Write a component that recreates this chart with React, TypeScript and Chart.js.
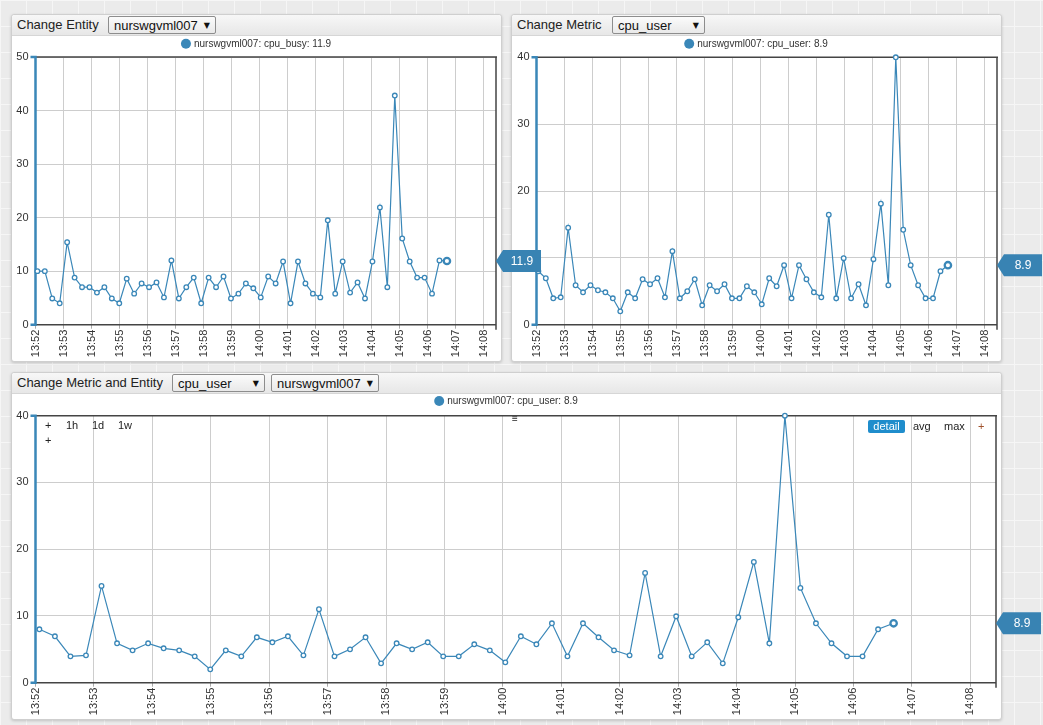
import React, { useEffect, useRef } from 'react';
import { Chart, registerables } from 'chart.js';

Chart.register(...registerables);

// ---------- data ----------
const ENTITY = 'nurswgvml007';
const METRIC_BUSY = 'cpu_busy';
const METRIC_USER = 'cpu_user';

// x axis: minutes after 13:52
const AXIS_START_H = 13;
const AXIS_START_M = 52;
const AXIS_SPAN_MIN = 16.44;
const FIRST_SAMPLE_SEC = 4;
const SAMPLE_STEP_SEC = 15.95;

const cpuBusy = [
  10.0, 10.0, 4.9, 4.0, 15.4, 8.8, 7.0, 7.0, 6.0, 7.0,
  4.9, 4.0, 8.6, 5.8, 7.7, 7.0, 7.9, 5.1, 12.0, 4.9,
  7.0, 8.8, 4.0, 8.8, 7.0, 9.0, 4.9, 5.8, 7.7, 6.8,
  5.1, 9.0, 7.7, 11.8, 4.0, 11.8, 7.7, 5.8, 5.1, 19.5,
  5.8, 11.8, 6.0, 7.9, 4.9, 11.8, 21.9, 7.0, 42.8, 16.1,
  11.8, 8.8, 8.8, 5.8, 12.0, 11.9,
];

const cpuUser = [
  8.0, 6.95, 3.95, 4.1, 14.5, 5.9, 4.85, 5.9, 5.15, 4.85,
  3.95, 2.0, 4.85, 3.95, 6.8, 6.05, 6.95, 4.1, 11.0, 3.95,
  5.0, 6.8, 2.9, 5.9, 5.0, 6.05, 3.95, 3.95, 5.75, 4.85,
  3.05, 6.95, 5.75, 8.9, 3.95, 8.9, 6.8, 4.85, 4.1, 16.45,
  3.95, 9.95, 3.95, 6.05, 2.9, 9.8, 18.1, 5.9, 40.0, 14.2,
  8.9, 5.9, 3.95, 3.95, 8.0, 8.9,
];

const metricOptions = ['cpu_user', 'cpu_busy'];
const periodButtons = ['1h', '1d', '1w'];
const statButtons = ['avg', 'max'];

// ---------- styles ----------
const LINE_COLOR = '#3a87b8';
const TAG_COLOR = '#3883b3';
const FONT = '"Liberation Sans", Arial, Helvetica, sans-serif';

function fmtTime(v: number) {
  const total = AXIS_START_H * 60 + AXIS_START_M + Math.round(v);
  const h = Math.floor(total / 60);
  const m = total % 60;
  return `${String(h).padStart(2, '0')}:${String(m).padStart(2, '0')}`;
}

type ChartProps = {
  left: number;
  top: number;
  w: number;
  h: number;
  plotLeft: number;
  plotTop: number;
  plotRight: number;
  plotBottom: number;
  legendCenterX: number;
  legendY: number;
  metric: string;
  values: number[];
  yMax: number;
  z: number;
};

function TimeChart(p: ChartProps) {
  const ref = useRef<HTMLCanvasElement>(null);
  useEffect(() => {
    const canvas = ref.current!;
    const last = p.values.length - 1;
    const lastValue = p.values[last];
    const points = p.values.map((v, i) => ({ x: (FIRST_SAMPLE_SEC + i * SAMPLE_STEP_SEC) / 60, y: v }));

    const framePlugin = {
      id: 'frame',
      beforeDatasetsDraw(chart: any) {
        const c = chart.ctx;
        const a = chart.chartArea;
        c.save();
        c.strokeStyle = '#444';
        c.lineWidth = 1.5;
        c.beginPath();
        c.moveTo(a.left, a.top);
        c.lineTo(a.right + 1, a.top);
        c.moveTo(a.right, a.top);
        c.lineTo(a.right, a.bottom + 5);
        c.moveTo(a.left, a.bottom);
        c.lineTo(a.right, a.bottom);
        c.stroke();
        c.strokeStyle = LINE_COLOR;
        c.lineWidth = 2.5;
        c.beginPath();
        c.moveTo(a.left - 5, a.top);
        c.lineTo(a.left, a.top);
        c.lineTo(a.left, a.bottom);
        c.lineTo(a.left - 5, a.bottom);
        c.stroke();
        c.restore();
      },
      afterDraw(chart: any) {
        const c = chart.ctx;
        const a = chart.chartArea;
        const yScale = chart.scales.y;
        // legend
        const text = `${ENTITY}: ${p.metric}: ${lastValue.toFixed(1)}`;
        c.save();
        c.font = `10px ${FONT}`;
        const tw = c.measureText(text).width;
        const total = 10 + 3 + tw;
        const sx = p.legendCenterX - total / 2;
        c.fillStyle = LINE_COLOR;
        c.beginPath();
        c.arc(sx + 5, p.legendY, 5, 0, Math.PI * 2);
        c.fill();
        c.fillStyle = '#333';
        c.textBaseline = 'middle';
        c.textAlign = 'left';
        c.fillText(text, sx + 13, p.legendY + 0.5);
        // value tag
        const ty = yScale.getPixelForValue(lastValue);
        const tx = a.right;
        c.fillStyle = TAG_COLOR;
        c.beginPath();
        c.moveTo(tx, ty);
        c.lineTo(tx + 7, ty - 11);
        c.lineTo(tx + 45, ty - 11);
        c.lineTo(tx + 45, ty + 11);
        c.lineTo(tx + 7, ty + 11);
        c.closePath();
        c.fill();
        c.fillStyle = '#fff';
        c.font = `12px ${FONT}`;
        c.textAlign = 'center';
        c.fillText(lastValue.toFixed(1), tx + 26, ty + 0.5);
        c.restore();
      },
    };

    const tickFont = { family: FONT, size: 11 };
    const chart = new Chart(canvas, {
      type: 'line',
      data: {
        datasets: [
          {
            data: points,
            borderColor: LINE_COLOR,
            borderWidth: 1.2,
            backgroundColor: '#fff',
            pointBackgroundColor: '#fff',
            pointBorderColor: LINE_COLOR,
            pointRadius: (ctx: any) => (ctx.dataIndex === last ? 3.2 : 2.3),
            pointBorderWidth: (ctx: any) => (ctx.dataIndex === last ? 2.3 : 1.3),
            tension: 0,
            clip: false as any,
          },
        ],
      },
      options: {
        animation: false,
        responsive: false,
        devicePixelRatio: 1,
        events: [],
        layout: { padding: { left: 0, top: p.plotTop, right: p.w - p.plotRight, bottom: 0 } },
        plugins: { legend: { display: false }, tooltip: { enabled: false } },
        scales: {
          x: {
            type: 'linear',
            min: 0,
            max: AXIS_SPAN_MIN,
            afterFit: (s: any) => {
              s.height = p.h - p.plotBottom;
            },
            grid: { color: '#cdcdcd', lineWidth: 1, drawTicks: true, tickLength: 4, tickColor: '#aaa' },
            border: { display: false },
            ticks: {
              stepSize: 1,
              includeBounds: false,
              autoSkip: false,
              maxRotation: 90,
              minRotation: 90,
              padding: 1,
              font: tickFont,
              color: '#333',
              callback: (v: any) => fmtTime(Number(v)),
            },
          },
          y: {
            min: 0,
            max: p.yMax,
            afterFit: (s: any) => {
              s.width = p.plotLeft;
            },
            grid: { color: '#cdcdcd', lineWidth: 1, drawTicks: false },
            border: { display: false },
            ticks: { stepSize: 10, padding: 7, font: tickFont, color: '#333' },
          },
        },
      } as any,
      plugins: [framePlugin],
    });
    return () => chart.destroy();
  }, []);
  return (
    <canvas
      ref={ref}
      width={p.w}
      height={p.h}
      style={{ position: 'absolute', left: p.left, top: p.top, width: p.w, height: p.h, zIndex: p.z }}
    />
  );
}

function Select({ left, top, width, text }: { left: number; top: number; width: number; text: string }) {
  return (
    <div
      style={{
        position: 'absolute',
        left,
        top,
        width,
        height: 18,
        boxSizing: 'border-box',
        border: '1px solid #8d8d8d',
        borderRadius: 2,
        background: 'linear-gradient(#fbfbfb, #e9e9e9)',
        fontFamily: FONT,
        fontSize: 13,
        lineHeight: '17px',
        color: '#111',
        paddingLeft: 5,
      }}
    >
      {text}
      <span
        style={{
          position: 'absolute',
          right: 5,
          top: 0,
          fontSize: 8,
          lineHeight: '17px',
          fontFamily: '"DejaVu Sans", sans-serif',
        }}
      >
        ▼
      </span>
    </div>
  );
}

function Panel({
  left,
  top,
  width,
  height,
  title,
  children,
}: {
  left: number;
  top: number;
  width: number;
  height: number;
  title: string;
  children?: any;
}) {
  return (
    <div
      style={{
        position: 'absolute',
        left,
        top,
        width,
        height,
        boxSizing: 'border-box',
        background: '#fff',
        border: '1px solid #cfcfcf',
        borderRadius: 3,
        boxShadow: '0 1px 3px rgba(0,0,0,0.18)',
        zIndex: 1,
      }}
    >
      <div
        style={{
          position: 'absolute',
          left: 0,
          top: 0,
          right: 0,
          height: 20,
          background: 'linear-gradient(#f7f7f7, #e7e7e7)',
          borderBottom: '1px solid #d6d6d6',
          borderRadius: '3px 3px 0 0',
        }}
      >
        <span
          style={{
            position: 'absolute',
            left: 5,
            top: 0,
            lineHeight: '20px',
            fontFamily: FONT,
            fontSize: 13,
            color: '#222',
          }}
        >
          {title}
        </span>
        {children}
      </div>
    </div>
  );
}

export default function App() {
  const small = { fontFamily: FONT, fontSize: 11, color: '#222', position: 'absolute' as const, zIndex: 5 };
  return (
    <div
      style={{
        position: 'fixed',
        left: 0,
        top: 0,
        width: 1043,
        height: 725,
        overflow: 'hidden',
        backgroundColor: '#ebebeb',
        backgroundImage:
          'linear-gradient(#f6f6f6 1px, transparent 1px), linear-gradient(90deg, #f6f6f6 1px, transparent 1px)',
        backgroundSize: '26px 26px',
      }}
    >
      <Panel left={11} top={14} width={491} height={348} title="Change Entity">
        <Select left={96} top={1} width={108} text={ENTITY} />
      </Panel>
      <Panel left={511} top={14} width={491} height={348} title="Change Metric">
        <Select left={100} top={1} width={93} text={METRIC_USER} />
      </Panel>
      <Panel left={11} top={372} width={991} height={348} title="Change Metric and Entity">
        <Select left={160} top={1} width={93} text={metricOptions[0]} />
        <Select left={259} top={1} width={108} text={ENTITY} />
      </Panel>

      <TimeChart
        left={11}
        top={35}
        w={534}
        h={327}
        plotLeft={24.5}
        plotTop={22}
        plotRight={485}
        plotBottom={289.7}
        legendCenterX={245}
        legendY={8.7}
        metric={METRIC_BUSY}
        values={cpuBusy}
        yMax={50}
        z={4}
      />
      <TimeChart
        left={511}
        top={35}
        w={532}
        h={327}
        plotLeft={25.5}
        plotTop={22.3}
        plotRight={486}
        plotBottom={289.7}
        legendCenterX={245}
        legendY={8.7}
        metric={METRIC_USER}
        values={cpuUser}
        yMax={40}
        z={3}
      />
      <TimeChart
        left={11}
        top={393}
        w={1032}
        h={327}
        plotLeft={24.5}
        plotTop={22.7}
        plotRight={985}
        plotBottom={289.7}
        legendCenterX={495}
        legendY={8}
        metric={METRIC_USER}
        values={cpuUser}
        yMax={40}
        z={3}
      />

      {/* chart 3 toolbar */}
      <span style={{ ...small, left: 45, top: 419 }}>+</span>
      <span style={{ ...small, left: 45, top: 434 }}>+</span>
      <span style={{ ...small, left: 66, top: 419 }}>{periodButtons[0]}</span>
      <span style={{ ...small, left: 92, top: 419 }}>{periodButtons[1]}</span>
      <span style={{ ...small, left: 118, top: 419 }}>{periodButtons[2]}</span>
      <span style={{ ...small, left: 512, top: 413, fontSize: 10 }}>≡</span>
      <span
        style={{
          ...small,
          left: 868,
          top: 420,
          width: 37,
          height: 13,
          lineHeight: '13px',
          textAlign: 'center',
          background: '#1f8dcc',
          color: '#fff',
          borderRadius: 2,
        }}
      >
        detail
      </span>
      <span style={{ ...small, left: 913, top: 420, lineHeight: '13px' }}>{statButtons[0]}</span>
      <span style={{ ...small, left: 944, top: 420, lineHeight: '13px' }}>{statButtons[1]}</span>
      <span style={{ ...small, left: 978, top: 420, lineHeight: '13px', color: '#a0522d' }}>+</span>
    </div>
  );
}
